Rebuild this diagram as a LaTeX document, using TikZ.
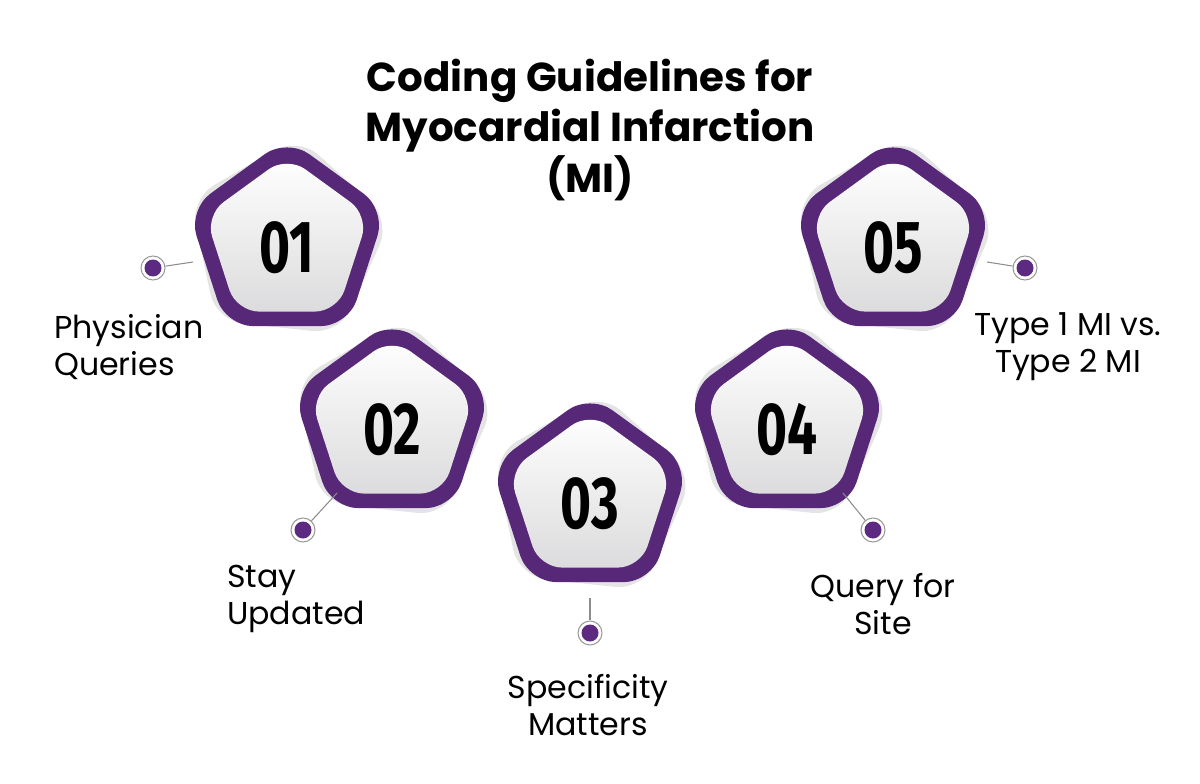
\documentclass[tikz,border=0pt]{standalone}
\usepackage{fontspec}
\setmainfont{Poppins}
\newfontfamily\numfont{Fira Sans}
\usepackage{tikz}
\usetikzlibrary{positioning,calc}
\definecolor{mipurple}{RGB}{88,40,120}
\definecolor{midot}{RGB}{92,42,128}
\definecolor{mifill}{RGB}{236,236,238}
\tikzset{
  label text/.style={font=\fontsize{18}{21}\selectfont, text=black, align=left},
  dot ring/.style={circle, draw=gray!80, line width=0.6pt, fill=white, minimum size=0.48cm, inner sep=0pt},
  dot core/.style={circle, fill=midot, minimum size=0.34cm, inner sep=0pt},
  leader/.style={draw=gray!90, line width=0.6pt}
}
% pentagon badge: name, x, y, number
\newcommand{\badge}[4]{%
  \fill[black!30, opacity=0.35, rounded corners=0.55cm]
    ($(#2,#3)+(60:106)$) -- ($(#2,#3)+(132:106)$) -- ($(#2,#3)+(204:106)$) -- ($(#2,#3)+(276:106)$) -- ($(#2,#3)+(348:106)$) -- cycle;
  \fill[mipurple, rounded corners=0.55cm]
    ($(#2,#3)+(54:104)$) -- ($(#2,#3)+(126:104)$) -- ($(#2,#3)+(198:104)$) -- ($(#2,#3)+(270:104)$) -- ($(#2,#3)+(342:104)$) -- cycle;
  \shade[top color=white, bottom color=mifill!85!gray, rounded corners=0.45cm]
    ($(#2,#3)+(54:86)$) -- ($(#2,#3)+(126:86)$) -- ($(#2,#3)+(198:86)$) -- ($(#2,#3)+(270:86)$) -- ($(#2,#3)+(342:86)$) -- cycle;
  \node (#1) at ($(#2,#3)+(0,6)$) {\numfont\bfseries\fontsize{42}{42}\selectfont\scalebox{0.72}[1]{#4}};
}
\begin{document}
\begin{tikzpicture}[x=0.02cm,y=-0.02cm]
\useasboundingbox (0,0) rectangle (1200,784);
% title
\node[font=\fontsize{23}{29}\selectfont\bfseries, align=center] (title) at (590,130)
  {Coding Guidelines for\\Myocardial Infarction\\(MI)};
% badges
\badge{b1}{287}{242}{01}
\badge{b2}{392}{424}{02}
\badge{b3}{590}{498}{03}
\badge{b4}{787}{424}{04}
\badge{b5}{893}{242}{05}
% leader lines and dots
\coordinate (e1) at (193,262);
\coordinate (e2) at (337,493);
\coordinate (e3) at (590,598);
\coordinate (e4) at (843,493);
\coordinate (e5) at (987,262);
\node[dot ring] (d1) at (153,268) {};
\node[dot ring] (d2) at (303,530) {};
\node[dot ring] (d3) at (590,633) {};
\node[dot ring] (d4) at (873,530) {};
\node[dot ring] (d5) at (1025,268) {};
\foreach \i in {1,...,5} {
  \draw[leader] (d\i) -- (e\i);
  \node[dot core] at (d\i) {};
}
% labels
\node[label text, anchor=west] (l1) at (48,347) {Physician\\Queries};
\node[label text, anchor=west] (l2) at (221,599) {Stay\\Updated};
\node[label text, align=center] (l3) at (588,705) {Specificity\\Matters};
\node[label text, align=center] (l4) at (883,604) {Query for\\Site};
\node[label text, align=center] (l5) at (1068,347) {Type 1 MI vs.\\Type 2 MI};
\end{tikzpicture}
\end{document}
